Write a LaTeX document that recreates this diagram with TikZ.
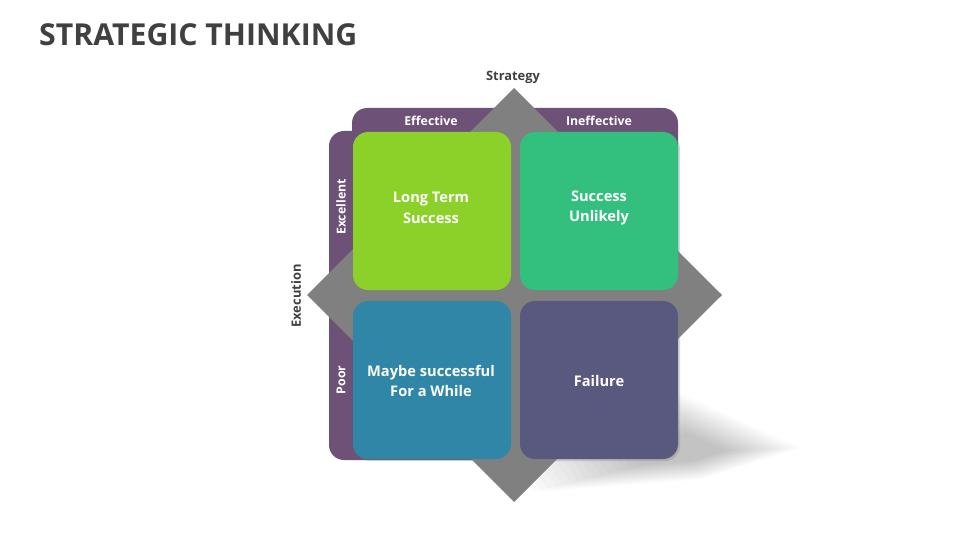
\documentclass[tikz,border=0pt]{standalone}
\usepackage{fontspec}
\setmainfont{Open Sans}
\usepackage{tikz}
\usetikzlibrary{positioning,shadows}
\definecolor{titlec}{RGB}{64,64,64}
\definecolor{barc}{RGB}{109,81,119}
\definecolor{diac}{RGB}{128,128,128}
\definecolor{limec}{RGB}{139,209,42}
\definecolor{greenc}{RGB}{51,191,126}
\definecolor{tealc}{RGB}{48,134,166}
\definecolor{slatec}{RGB}{89,88,126}

\begin{document}
\begin{tikzpicture}[x=0.03cm, y=-0.03cm,
  quad/.style={rounded corners=0.45cm, minimum width=4.74cm, minimum height=4.74cm, inner sep=0pt, drop shadow={opacity=0.3, shadow xshift=0.6mm, shadow yshift=-0.6mm}},
  qtext/.style={text=white, align=center, font=\bfseries\fontsize{12.5}{17.5}\selectfont},
  lab/.style={text=white, font=\bfseries\fontsize{10.5}{12}\selectfont},
  axis/.style={text=titlec, font=\bfseries\fontsize{11}{13}\selectfont}]
  \useasboundingbox[fill=white] (0,0) rectangle (960,540);

  \node[anchor=base west, text=titlec, font=\bfseries\fontsize{25.8}{30}\selectfont, inner sep=0pt] (title) at (39,46) {STRATEGIC THINKING};

  % soft shadow on the floor
  \foreach \s in {1.05,1.0,...,0.3}
    \fill[black, opacity=0.016, shift={(690,452)}, scale=\s]
      (-170,8) -- (-12,-57) -- (105,-4) -- (10,26) -- (-150,38) -- cycle;

  % the two bars, then the diamond over them
  \fill[barc, rounded corners=0.45cm] (352,108) rectangle (678,300);
  \fill[barc, rounded corners=0.45cm] (329,131) rectangle (520,460);
  \fill[diac] (514,88) -- (722,295) -- (514,502) -- (307,295) -- cycle;

  % quadrants
  \node[quad, fill=limec]  (tl) at (432,211) {};
  \node[quad, fill=greenc] (tr) at (599,211) {};
  \node[quad, fill=tealc]  (bl) at (432,380) {};
  \node[quad, fill=slatec] (br) at (599,380) {};
  \node[qtext] (tlt) at (431,208) {Long Term\\Success};
  \node[qtext] (trt) at (599,208) {Success\\Unlikely};
  \node[qtext] (blt) at (431,381) {Maybe successful\\For a While};
  \node[qtext] (brt) at (599,381) {Failure};

  % axis labels
  \node[lab] (eff) at (431,121) {Effective};
  \node[lab] (ineff) at (599,121) {Ineffective};
  \node[lab, rotate=90] (exc) at (341,207) {Excellent};
  \node[lab, rotate=90] (poor) at (341,380) {Poor};
  \node[axis] (strat) at (513,77) {Strategy};
  \node[axis, rotate=90] (exec) at (296,296) {Execution};
\end{tikzpicture}
\end{document}
